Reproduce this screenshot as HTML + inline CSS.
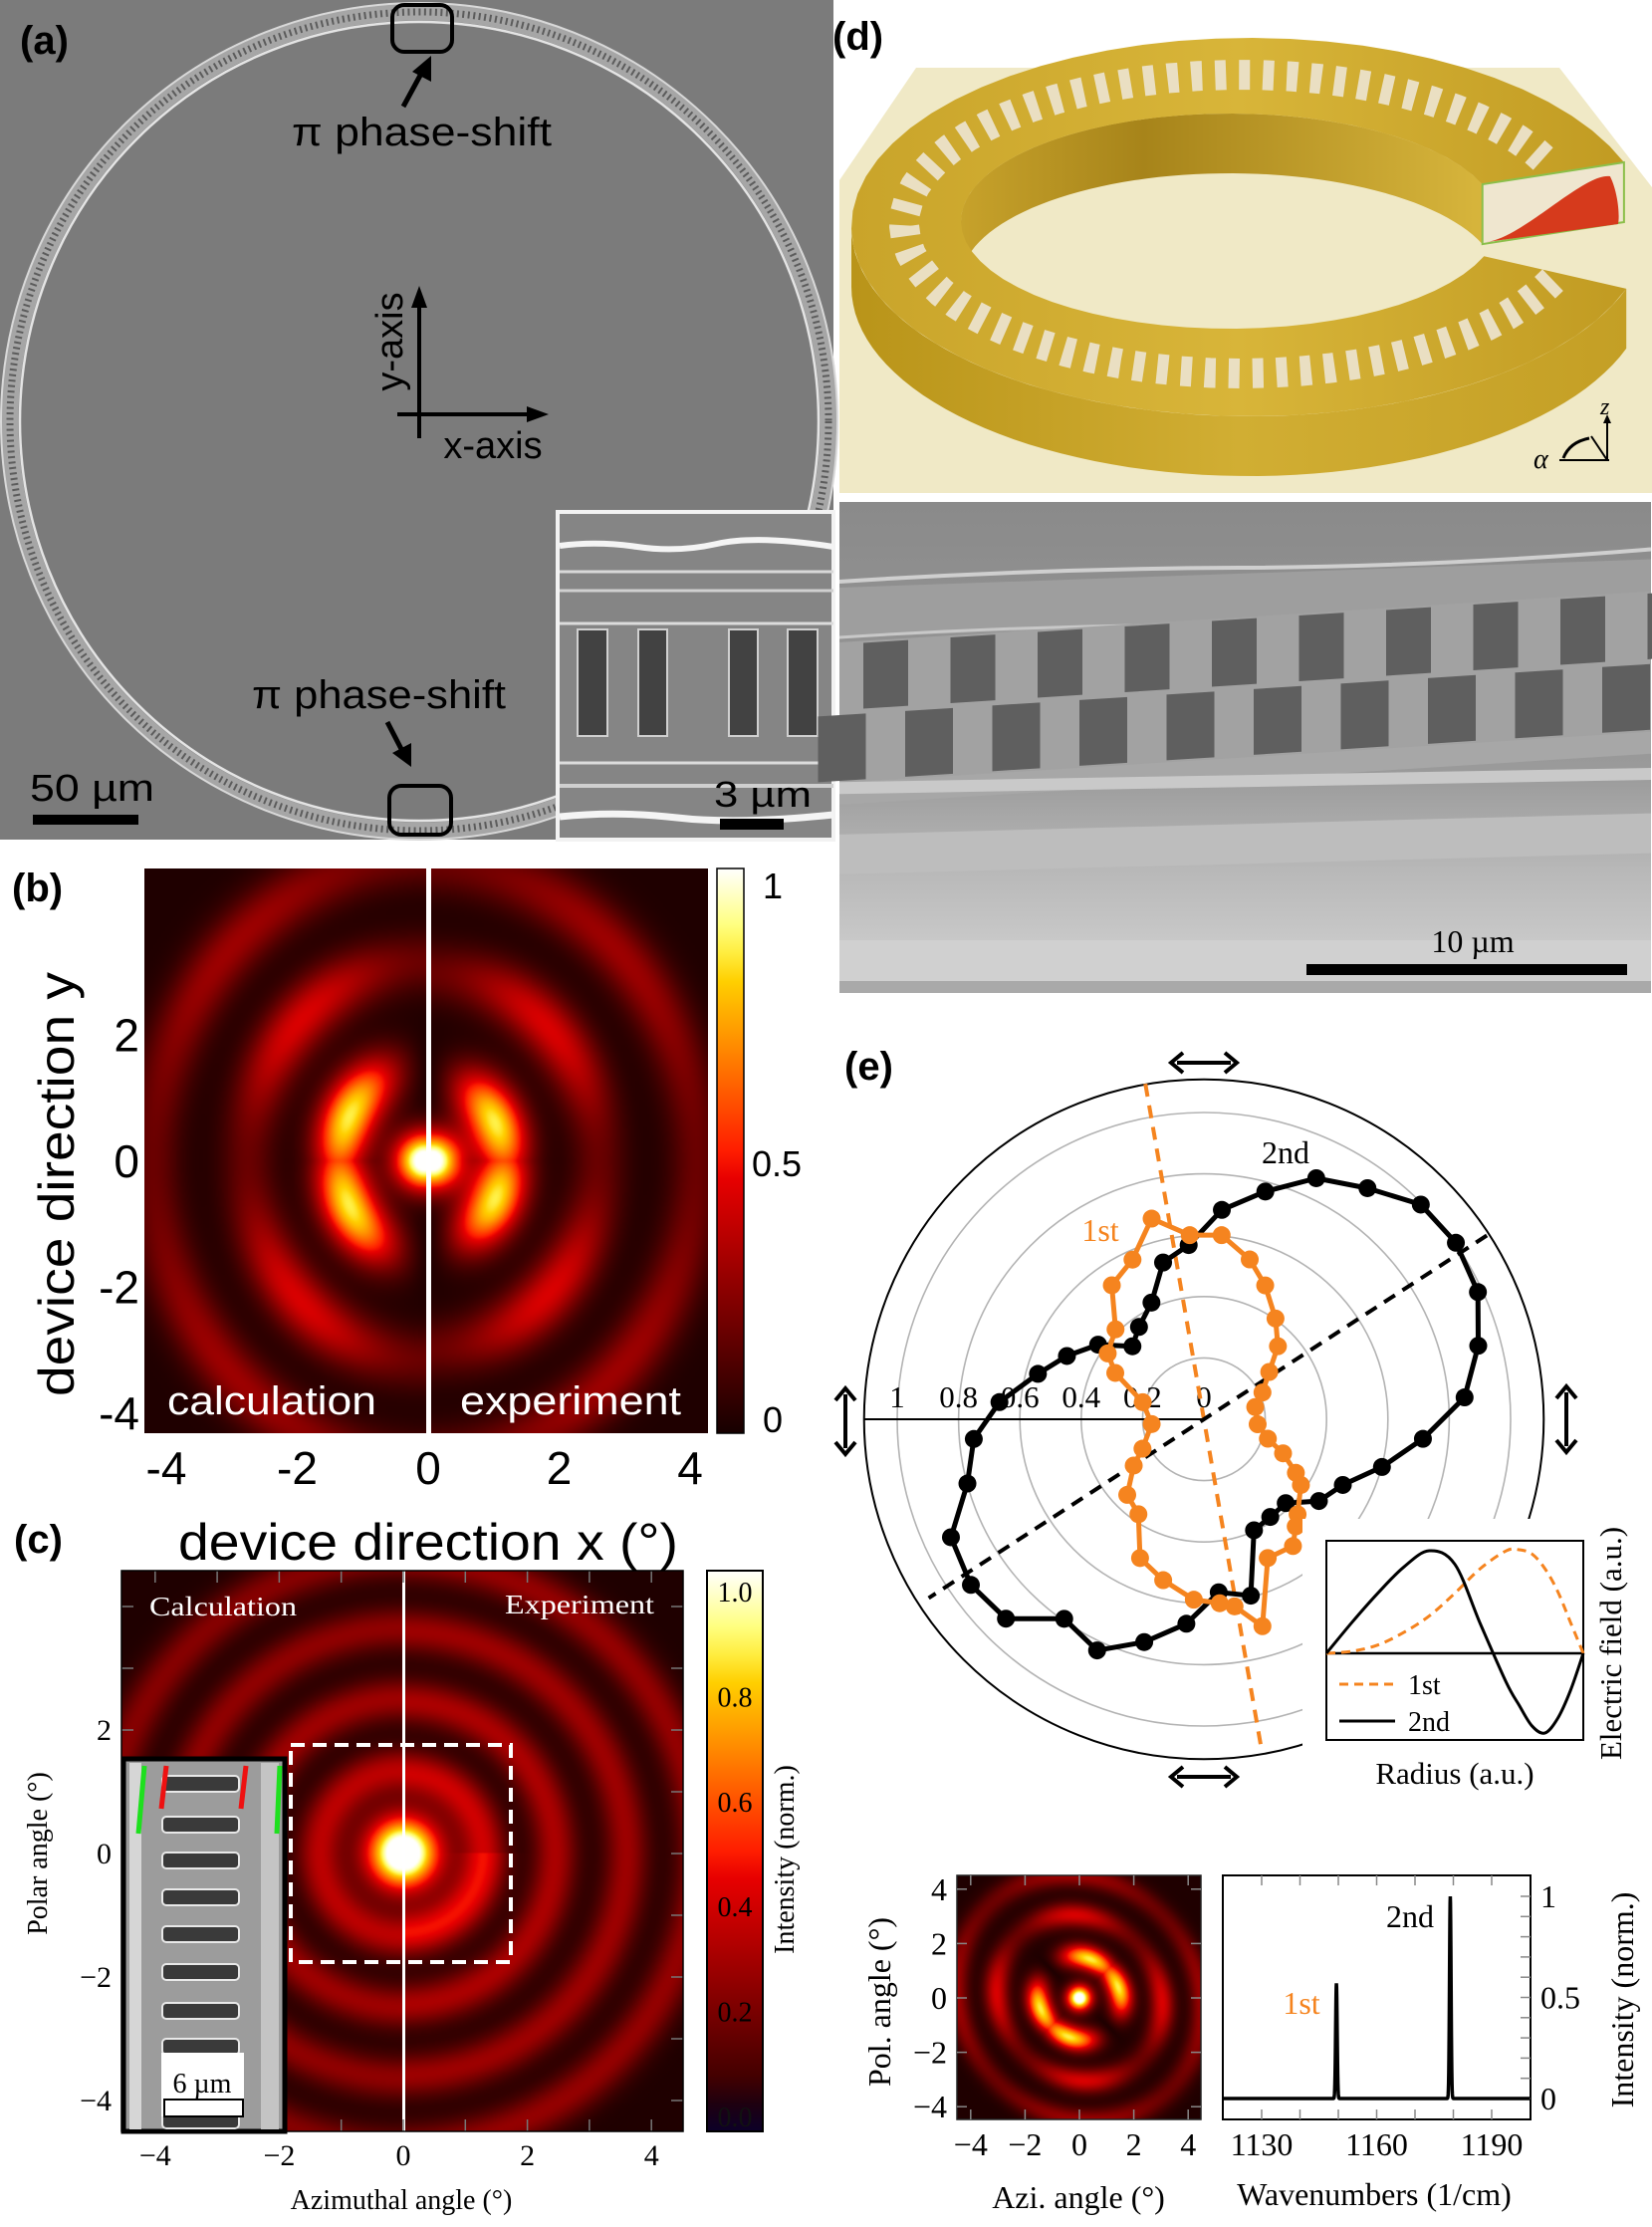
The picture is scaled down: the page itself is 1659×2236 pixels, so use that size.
<!DOCTYPE html>
<html><head><meta charset="utf-8"><title>Figure</title>
<style>
body{margin:0;width:1659px;height:2236px;position:relative;background:#fff;overflow:hidden}
canvas{position:absolute}
svg{position:absolute;left:0;top:0}
.sans{font-family:"Liberation Sans",sans-serif}
.serif{font-family:"Liberation Serif",serif}
</style></head>
<body>
<canvas id="hb" style="left:145px;top:872px;width:566px;height:567px"></canvas>
<canvas id="hc" style="left:122px;top:1577px;width:564px;height:563px"></canvas>
<canvas id="he" style="left:961px;top:1883px;width:245px;height:245px"></canvas>
<svg id="fig" width="1659" height="2236" viewBox="0 0 1659 2236">
<defs>
<linearGradient id="gold" x1="0" y1="0" x2="1" y2="0"><stop offset="0" stop-color="#c9a42a"/><stop offset="0.5" stop-color="#d8b539"/><stop offset="1" stop-color="#c19b22"/></linearGradient>
<linearGradient id="goldwall" x1="0" y1="0" x2="1" y2="0"><stop offset="0" stop-color="#b99419"/><stop offset="0.5" stop-color="#d1ae33"/><stop offset="1" stop-color="#c49f25"/></linearGradient>
<linearGradient id="innerwall" x1="0" y1="0" x2="1" y2="0"><stop offset="0" stop-color="#c7a22b"/><stop offset="0.35" stop-color="#a7841a"/><stop offset="1" stop-color="#d7b53c"/></linearGradient>
<linearGradient id="cbB" x1="0" y1="1" x2="0" y2="0"></linearGradient>
<linearGradient id="cbC" x1="0" y1="1" x2="0" y2="0"></linearGradient>
<linearGradient id="semd" x1="0" y1="0" x2="0" y2="1"><stop offset="0" stop-color="#8a8a8a"/><stop offset="0.55" stop-color="#9a9a9a"/><stop offset="0.75" stop-color="#b8b8b8"/><stop offset="0.92" stop-color="#cbcbcb"/><stop offset="1" stop-color="#a8a8a8"/></linearGradient>
</defs>

<!-- Panel (a) -->
<g>
<rect x="0" y="0" width="837" height="843" fill="#7b7b7b"/>
<circle cx="421" cy="423" r="411" fill="none" stroke="#a6a6a6" stroke-width="17"/>
<circle cx="421" cy="423" r="411" fill="none" stroke="#5c5c5c" stroke-width="7" stroke-dasharray="2 3.5"/>
<circle cx="421" cy="423" r="401" fill="none" stroke="#e4e4e4" stroke-width="2.5"/>
<circle cx="421" cy="423" r="420" fill="none" stroke="#d8d8d8" stroke-width="2"/>
<rect x="394" y="5" width="60" height="47" rx="12" fill="none" stroke="#000" stroke-width="4"/>
<rect x="391" y="789" width="62" height="49" rx="12" fill="none" stroke="#000" stroke-width="4"/>
<line x1="405" y1="107" x2="424" y2="72" stroke="#000" stroke-width="5"/>
<polygon points="433,56 414,72 433,82" fill="#000"/>
<line x1="389" y1="725" x2="404" y2="754" stroke="#000" stroke-width="5"/>
<polygon points="413,770 394,756 413,746" fill="#000"/>
<text x="293" y="146" class="sans" font-size="40" textLength="261" lengthAdjust="spacingAndGlyphs">π phase-shift</text>
<text x="253" y="711" class="sans" font-size="40" textLength="255" lengthAdjust="spacingAndGlyphs">π phase-shift</text>
<line x1="421" y1="440" x2="421" y2="305" stroke="#000" stroke-width="4"/>
<polygon points="421,287 413,309 429,309" fill="#000"/>
<line x1="399" y1="416" x2="533" y2="416" stroke="#000" stroke-width="4"/>
<polygon points="551,416 529,408 529,424" fill="#000"/>
<text transform="translate(404,343) rotate(-90)" text-anchor="middle" class="sans" font-size="38">y-axis</text>
<text x="495" y="460" text-anchor="middle" class="sans" font-size="38">x-axis</text>
<text x="30" y="804" class="sans" font-size="38" textLength="125" lengthAdjust="spacingAndGlyphs">50 µm</text>
<rect x="33" y="818" width="106" height="10" fill="#000"/>
<g>
<rect x="560" y="514" width="277" height="329" fill="#858585" stroke="#f2f2f2" stroke-width="4"/>
<path d="M562 548 Q600 543 640 549 T720 546 T837 549" stroke="#f4f4f4" stroke-width="6" fill="none"/>
<line x1="562" y1="574" x2="837" y2="574" stroke="#d8d8d8" stroke-width="3"/>
<line x1="562" y1="593" x2="837" y2="593" stroke="#cfcfcf" stroke-width="3"/>
<line x1="562" y1="626" x2="837" y2="626" stroke="#dcdcdc" stroke-width="3"/>
<rect x="580" y="632" width="30" height="107" fill="#424242" stroke="#d0d0d0" stroke-width="2"/>
<rect x="641" y="632" width="29" height="107" fill="#424242" stroke="#d0d0d0" stroke-width="2"/>
<rect x="732" y="632" width="29" height="107" fill="#424242" stroke="#d0d0d0" stroke-width="2"/>
<rect x="791" y="632" width="30" height="107" fill="#424242" stroke="#d0d0d0" stroke-width="2"/>
<line x1="562" y1="766" x2="837" y2="766" stroke="#dcdcdc" stroke-width="3"/>
<line x1="562" y1="789" x2="837" y2="789" stroke="#cfcfcf" stroke-width="4"/>
<path d="M562 820 Q620 814 680 821 T837 818" stroke="#f4f4f4" stroke-width="7" fill="none"/>
<text x="717" y="810" class="sans" font-size="36" textLength="98" lengthAdjust="spacingAndGlyphs">3 µm</text>
<rect x="723" y="822" width="64" height="11" fill="#000"/>
</g>
<text x="20" y="54" class="sans" font-size="40" font-weight="bold">(a)</text>
</g>

<!-- Panel (d) -->
<g>
<polygon points="843,181 920,68 1566,68 1659,188 1659,495 843,495" fill="#f0e9c6"/>
<g id="ringd"></g>
<text x="1607" y="416" class="serif" font-size="24" font-style="italic">z</text>
<line x1="1614" y1="462" x2="1614" y2="422" stroke="#000" stroke-width="2"/>
<polygon points="1614,416 1610,425 1618,425" fill="#000"/>
<line x1="1566" y1="462" x2="1616" y2="462" stroke="#000" stroke-width="2"/>
<line x1="1614" y1="462" x2="1598" y2="438" stroke="#000" stroke-width="2"/>
<path d="M1596 440 Q1576 444 1570 460" fill="none" stroke="#000" stroke-width="3"/>
<text x="1540" y="470" class="serif" font-size="28" font-style="italic">α</text>
<text x="836" y="50" class="sans" font-size="40" font-weight="bold">(d)</text>
</g>
<g>
<rect x="843" y="504" width="815" height="493" fill="url(#semd)"/>
<g transform="translate(843,0) skewY(-2)">
<path d="M0 584 Q200 578 400 584 T815 580" stroke="#cfcfcf" stroke-width="4" fill="none"/>
<rect x="0" y="590" width="815" height="50" fill="#9e9e9e"/>
<path d="M0 640 Q200 634 400 641 T815 637" stroke="#c8c8c8" stroke-width="3" fill="none"/>
</g>
<g id="combd" transform="translate(843,0) skewY(-3.6)"></g>
<rect x="843" y="800" width="815" height="12" fill="#c9c9c9" transform="skewY(-1)"/>
<rect x="843" y="830" width="815" height="40" fill="#bdbdbd" transform="skewY(-1.5) translate(0,30)"/>
<rect x="843" y="944" width="815" height="53" fill="#d0d0d0"/>
<rect x="843" y="985" width="815" height="12" fill="#a9a9a9"/>
<text x="1479" y="956" text-anchor="middle" class="serif" font-size="32">10 µm</text>
<rect x="1312" y="968" width="322" height="11" fill="#000"/>
</g>

<!-- Panel (b) -->
<g>
<rect x="428" y="872" width="5" height="567" fill="#fff"/>
<rect x="720" y="872" width="27" height="567" fill="url(#cbB)" stroke="#000" stroke-width="1.5"/>
<text x="766" y="902" class="sans" font-size="36">1</text>
<text x="755" y="1181" class="sans" font-size="36">0.5</text>
<text x="766" y="1438" class="sans" font-size="36">0</text>
<text x="273" y="1420" text-anchor="middle" class="sans" font-size="40" fill="#fff" textLength="210" lengthAdjust="spacingAndGlyphs">calculation</text>
<text x="573" y="1420" text-anchor="middle" class="sans" font-size="40" fill="#fff" textLength="222" lengthAdjust="spacingAndGlyphs">experiment</text>
<g id="bticks" class="sans" font-size="46"></g>
<text transform="translate(74,1189) rotate(-90)" text-anchor="middle" class="sans" font-size="50" textLength="426" lengthAdjust="spacingAndGlyphs">device direction y</text>
<text x="430" y="1566" text-anchor="middle" class="sans" font-size="52" textLength="502" lengthAdjust="spacingAndGlyphs">device direction x (°)</text>
<text x="12" y="905" class="sans" font-size="40" font-weight="bold">(b)</text>
</g>

<!-- Panel (c) -->
<g>
<text x="14" y="1559" class="sans" font-size="40" font-weight="bold">(c)</text>
<rect x="404" y="1577" width="3" height="563" fill="#fff"/>
<g id="cticks"></g>
<rect x="292" y="1752" width="221" height="218" fill="none" stroke="#fff" stroke-width="4" stroke-dasharray="14 8"/>
<g>
<rect x="124" y="1766" width="162" height="374" fill="#9c9c9c" stroke="#000" stroke-width="5"/>
<rect x="130" y="1770" width="12" height="368" fill="#d6d6d6"/>
<rect x="262" y="1770" width="18" height="368" fill="#c4c4c4"/>
<g id="cinsetslots"></g>
<line x1="145" y1="1773" x2="139" y2="1841" stroke="#1ee01e" stroke-width="5"/>
<line x1="281" y1="1773" x2="278" y2="1841" stroke="#1ee01e" stroke-width="5"/>
<line x1="167" y1="1773" x2="162" y2="1816" stroke="#ee1111" stroke-width="5"/>
<line x1="247" y1="1773" x2="242" y2="1816" stroke="#ee1111" stroke-width="5"/>
<rect x="162" y="2061" width="83" height="64" fill="#fff"/>
<text x="203" y="2101" text-anchor="middle" class="serif" font-size="28">6 µm</text>
<rect x="165" y="2108" width="79" height="17" fill="#fff" stroke="#000" stroke-width="2"/>
</g>
<text x="224" y="1622" text-anchor="middle" class="serif" font-size="27" fill="#fff" textLength="148" lengthAdjust="spacingAndGlyphs">Calculation</text>
<text x="582" y="1620" text-anchor="middle" class="serif" font-size="27" fill="#fff" textLength="150" lengthAdjust="spacingAndGlyphs">Experiment</text>
<rect x="710" y="1577" width="56" height="563" fill="url(#cbC)" stroke="#000" stroke-width="2"/>
<g id="cbclabels" class="serif" font-size="28"></g>
<text transform="translate(797,1867) rotate(-90)" text-anchor="middle" class="serif" font-size="28">Intensity (norm.)</text>
<text transform="translate(47,1861) rotate(-90)" text-anchor="middle" class="serif" font-size="28">Polar angle (°)</text>
<text x="403" y="2218" text-anchor="middle" class="serif" font-size="28">Azimuthal angle (°)</text>
</g>

<!-- Panel (e) polar -->
<g id="polar"></g>
<text x="848" y="1084" class="sans" font-size="40" font-weight="bold">(e)</text>

<!-- Bottom panels -->
<g id="bottom"></g>
</svg>

<script>
// ---------- polar data (panel e) ----------
const angles2nd = [65.0,54.7,44.7,35.0,24.9,15.0,4.8,-5.1,-15.0,-25.3,-35.4,-45.7,-55.8,-65.7,-75.1,-85.1,-94.9,-105.0,-114.8,-125.0,-134.8,-144.6,-155.0,-164.8,-175.1,175.2,164.7,155.2,144.8,134.4,125.1,114.2,104.6,95.0,85.1,74.9];
const radii2nd  = [0.867,0.923,0.995,1.003,0.985,0.926,0.853,0.717,0.601,0.501,0.46,0.382,0.385,0.397,0.595,0.566,0.669,0.752,0.83,0.794,0.916,0.932,0.91,0.799,0.753,0.669,0.561,0.492,0.422,0.333,0.368,0.417,0.528,0.57,0.685,0.769];
const angles1st = [104.6,94.4,84.5,74.0,65.4,54.6,44.6,35.9,24.6,13.4,-5.3,-16.9,-23.3,-30.2,-34.1,-45.4,-49.4,-54.9,-65.3,-74.2,-80.7,-85.1,-93.2,-104.2,-114.7,-124.6,-135.4,-146.6,-154.4,-174.7,164.4,152.4,145.6,134.5,124.5,114.1];
const radii1st  = [0.676,0.602,0.603,0.542,0.48,0.403,0.339,0.263,0.21,0.172,0.176,0.218,0.281,0.347,0.382,0.435,0.46,0.505,0.498,0.701,0.618,0.602,0.589,0.541,0.498,0.376,0.351,0.274,0.222,0.171,0.207,0.326,0.38,0.411,0.53,0.57];
const polarTicks = [1,0.8,0.6,0.4,0.2,0];
const axis1stAngle = 99.9;
const axis2ndAngle = 33;
// ---------- inset field profiles ----------
const fieldRadius = [0,0.1,0.2,0.3,0.4,0.5,0.6,0.7,0.75,0.8,0.85,0.9,0.95,1.0];
const field1st = [0,0.02,0.08,0.2,0.36,0.58,0.82,0.99,1.0,0.96,0.82,0.6,0.3,0];
const field2nd = [0,0.3,0.58,0.83,0.99,0.86,0.28,-0.28,-0.5,-0.7,-0.77,-0.63,-0.36,0];
// ---------- spectrum ----------
const peakPositions = [1149.5,1179.2];
const peakHeights = [0.57,1.0];
const specXTicks = [1130,1160,1190];
const specYTicks = [0,0.5,1];
// ---------- heatmap axes ----------
const bXTicks = [-4,-2,0,2,4];
const bYTicks = [2,0,-2,-4];
const cXTicks = [-4,-2,0,2,4];
const cYTicks = [2,0,-2,-4];
const cbCLabels = [1.0,0.8,0.6,0.4,0.2,0.0];
const eTicks = [4,2,0,-2,-4];

const NS="http://www.w3.org/2000/svg";
function mk(tag, attrs, parent){const e=document.createElementNS(NS,tag);for(const k in attrs)e.setAttribute(k,attrs[k]);if(parent)parent.appendChild(e);return e;}
function fmt(v){return (v<0?"−":"")+Math.abs(v);}

// colormap
function cmap(t){t=Math.max(0,Math.min(1,t));
 const r=t<0.5?22+233*t/0.5:255;
 const g=t<0.45?0:(t<0.88?255*(t-0.45)/0.43:255);
 const b=t<0.8?0:255*(t-0.8)/0.2;return [r|0,g|0,b|0];}
function fillGrad(id,navy){const g=document.getElementById(id);
 for(let i=0;i<=20;i++){const t=i/20;let c=cmap(t);if(navy&&t<0.08){c=[Math.round(12+t/0.08*30),0,Math.round(40*(1-t/0.08))];}
  mk('stop',{offset:t,'stop-color':`rgb(${c[0]},${c[1]},${c[2]})`},g);}}
fillGrad('cbB',false);fillGrad('cbC',true);

// heat functions (image models)
function hsym(x,y,p){const yy=y/(p.ay||1.15);const r=Math.hypot(x,yy);const phi=Math.atan2(Math.abs(yy),Math.abs(x));
 let v=0.02;
 v+=1.1*Math.exp(-((x-p.cx)**2+y**2)/0.2);
 const A1=Math.pow(Math.cos(phi),1.2)*(0.6+0.55*Math.sin(2*phi));
 v+=0.92*A1*Math.exp(-(((r-p.r1)/0.42)**2));
 const A2=0.4+0.6*Math.sin(2*phi)**2;
 v+=0.4*A2*Math.exp(-(((r-p.r2)/0.42)**2));
 v+=0.27*(0.6+0.4*Math.sin(2*phi)**2)*Math.exp(-(((r-p.r3)/0.42)**2));
 return v;}
function hcf(x,y){const r=Math.hypot(x,y);const right=x>0;
 const rr=right?[1.3,2.45,3.6,4.75]:[1.35,2.5,3.65,4.8];const aa=right?[0.36,0.3,0.27,0.25]:[0.32,0.27,0.24,0.22];
 let v=0.02+1.1*Math.exp(-((r/0.55)**2))+0.12*Math.exp(-((r/0.9)**2));
 for(let i=0;i<4;i++)v+=aa[i]*Math.exp(-(((r-rr[i])/0.36)**2));
 if(right&&y<0)v+=0.08*Math.exp(-(((r-1.3)/0.4)**2));
 return v;}
function drawHeat(id,W,H,s,fn){const c=document.getElementById(id);c.width=Math.round(W/s);c.height=Math.round(H/s);
 const ctx=c.getContext('2d');const im=ctx.createImageData(c.width,c.height);
 for(let j=0;j<c.height;j++)for(let i=0;i<c.width;i++){const col=cmap(fn(i*s+s/2,j*s+s/2));const k=(j*c.width+i)*4;im.data[k]=col[0];im.data[k+1]=col[1];im.data[k+2]=col[2];im.data[k+3]=255;}
 ctx.putImageData(im,0,0);}
drawHeat('hb',566,567,2,(px,py)=>{const x=(145+px-430)/65.75,y=(1166-(872+py))/63.2;
 return x<0?hsym(x,y,{cx:-0.05,r1:1.35,r2:2.75,r3:4.2}):hsym(x,y,{cx:0.05,r1:1.15,r2:2.6,r3:4.1});});
drawHeat('hc',564,563,2,(px,py)=>{const x=(122+px-405)/62.3,y=(1861-(1577+py))/62;return hcf(x,y);});
drawHeat('he',245,245,1,(px,py)=>{const x=(px-123)/27.3,y=-(py-123)/27.3;const u=(x+y)/Math.SQRT2,v=(-x+y)/Math.SQRT2;return hsym(u,v,{cx:0,r1:1.45,r2:2.9,r3:4.3,ay:1.1});});

// panel b ticks
const bt=document.getElementById('bticks');
bXTicks.forEach(v=>{const t=mk('text',{x:430+v*65.75,y:1490,'text-anchor':'middle'},bt);t.textContent=v<0?"-"+Math.abs(v):v;
 
 });
bYTicks.forEach(v=>{const t=mk('text',{x:140,y:1166-v*63.2+16,'text-anchor':'end'},bt);t.textContent=v<0?"-"+Math.abs(v):v;
 
 });

// panel c ticks
const ct=document.getElementById('cticks');
for(let v=-4;v<=4;v++){const x=405+v*62.3;mk('line',{x1:x,y1:1577,x2:x,y2:1589,stroke:'#777','stroke-width':1.5},ct);mk('line',{x1:x,y1:2140,x2:x,y2:2128,stroke:'#777','stroke-width':1.5},ct);
 const y=1861-v*62;mk('line',{x1:686,y1:y,x2:674,y2:y,stroke:'#777','stroke-width':1.5},ct);mk('line',{x1:122,y1:y,x2:134,y2:y,stroke:'#777','stroke-width':1.5},ct);}
cXTicks.forEach(v=>{const t=mk('text',{x:405+v*62.3,y:2174,'text-anchor':'middle','class':'serif','font-size':30},ct);t.textContent=fmt(v);
 
 });
cYTicks.forEach(v=>{const t=mk('text',{x:112,y:1861-v*62+10,'text-anchor':'end','class':'serif','font-size':30},ct);t.textContent=fmt(v);
 
 });
const cbl=document.getElementById('cbclabels');
cbCLabels.forEach(v=>{const t=mk('text',{x:738,y:2125-v*527+10,'text-anchor':'middle',fill:v<0.1?'#111':'#000'},cbl);t.textContent=v.toFixed(1);
 
 });
mk('rect',{x:122,y:1577,width:564,height:563,fill:'none',stroke:'#000','stroke-width':1.5},ct);
const cs=document.getElementById('cinsetslots');
[1791,1832,1868,1905,1942,1980,2019,2055,2091,2129].forEach(y=>{const r=mk('rect',{x:163,y:y-8,width:77,height:16,rx:4,fill:'#3a3a3a',stroke:'#e8e8e8','stroke-width':2},cs);
 
 });

// panel d ring
(function(){const g=document.getElementById('ringd');
 const cx=1255,cy=228,rx=400,ry=190,icx=1235,icy=222,irx=270,iry=108,H=60;
 const P=(a,X,Y,RX,RY,dy)=>[X+RX*Math.cos(a*Math.PI/180),Y+RY*Math.sin(a*Math.PI/180)+(dy||0)];
 function arc(X,Y,RX,RY,a0,a1,dy){let s="";const n=60;for(let i=0;i<=n;i++){const a=a0+(a1-a0)*i/n;const p=P(a,X,Y,RX,RY,dy);s+=(i?"L":"")+p[0].toFixed(1)+" "+p[1].toFixed(1)+" ";}return s;}
 const iw=mk('path',{d:"M"+arc(icx,icy,irx,iry,180,340,0)+"L"+arc(icx,icy,irx,iry,340,180,H)+"Z",fill:'url(#innerwall)'},g);
 
 
 const ow=mk('path',{d:"M"+arc(cx,cy,rx,ry,19,180,0)+"L"+arc(cx,cy,rx,ry,180,19,H)+"Z",fill:'url(#goldwall)'},g);
 
 
 const top=mk('path',{d:"M"+arc(cx,cy,rx,ry,19,340,0)+"L"+arc(icx,icy,irx,iry,340,19,0)+"Z",fill:'url(#gold)'},g);
 
 
 const sl=mk('path',{d:"M"+arc(1246,225,338,150,22,336,0),fill:'none',stroke:'#eadfc2','stroke-width':30,'stroke-dasharray':'11 13'},g);
 
 
 const a=P(340,cx,cy,rx,ry),b=P(340,icx,icy,irx,iry);
 const ef=mk('polygon',{points:`${a[0]},${a[1]} ${b[0]},${b[1]} ${b[0]},${b[1]+H} ${a[0]},${a[1]+H}`,fill:'#efe6cf',stroke:'#8bbf4a','stroke-width':2},g);
 
 
 const rd=mk('path',{d:`M${b[0]+4} ${b[1]+H-2} C ${b[0]+40} ${b[1]+H-6}, ${a[0]-40} ${a[1]+10}, ${a[0]-14} ${a[1]+14} C ${a[0]-6} ${a[1]+30}, ${a[0]-4} ${a[1]+H-6}, ${a[0]-6} ${a[1]+H+2} Z`,fill:'#d63a1c'},g);
 
 
})();
// panel d sem comb
(function(){const g=document.getElementById('combd');
 mk('rect',{x:0,y:645,width:815,height:142,fill:'#a2a2a2'},g);
 for(let k=0;k<10;k++){const u=mk('rect',{x:24+k*87.5,y:647,width:45,height:66,fill:'#5f5f5f'},g);
  
  
  const l=mk('rect',{x:66+k*87.5-87.5,y:718,width:48,height:66,fill:'#5f5f5f'},g);
  
  }
 mk('rect',{x:0,y:786,width:815,height:22,fill:'#a7a7a7'},g);
})();

// polar plot
(function(){const g=document.getElementById('polar');const cx=1209,cy=1425,R=308;
 const X=(a,r)=>cx+r*R*Math.cos(a*Math.PI/180),Y=(a,r)=>cy-r*R*Math.sin(a*Math.PI/180);
 [0.2,0.4,0.6,0.8,1.0].forEach(r=>{const c=mk('circle',{cx,cy,r:r*R,fill:'none',stroke:'#b3b3b3','stroke-width':1.6},g);
  
  });
 const oc=mk('circle',{cx,cy,r:1.108*R,fill:'none',stroke:'#000','stroke-width':2},g);
 
 
 const ax=mk('line',{x1:cx,y1:cy,x2:cx-1.108*R,y2:cy,stroke:'#000','stroke-width':2},g);
 
 
 polarTicks.forEach(v=>{const t=mk('text',{x:cx-v*R,y:cy-12,'text-anchor':'middle','class':'serif','font-size':31},g);t.textContent=v;
  
  });
 const d1=mk('line',{x1:X(axis1stAngle,1.11),y1:Y(axis1stAngle,1.11),x2:X(axis1stAngle+180,1.08),y2:Y(axis1stAngle+180,1.08),stroke:'#f5841f','stroke-width':4,'stroke-dasharray':'13 9'},g);
 
 
 const d2=mk('line',{x1:X(axis2ndAngle,1.10),y1:Y(axis2ndAngle,1.10),x2:X(axis2ndAngle+180,1.07),y2:Y(axis2ndAngle+180,1.07),stroke:'#000','stroke-width':4,'stroke-dasharray':'13 9'},g);
 
 
 function series(ang,rad,col,name){let d="";ang.forEach((a,i)=>{d+=(i?"L":"M")+X(a,rad[i]).toFixed(1)+" "+Y(a,rad[i]).toFixed(1)+" ";});d+="Z";
  const p=mk('path',{d,fill:'none',stroke:col,'stroke-width':5,'stroke-linejoin':'round'},g);
  
  
  ang.forEach((a,i)=>{const c=mk('circle',{cx:X(a,rad[i]),cy:Y(a,rad[i]),r:9,fill:col},g);
   
   });}
 series(angles2nd,radii2nd,'#000','series-2nd');
 series(angles1st,radii1st,'#f5841f','series-1st');
 const l2=mk('text',{x:1291,y:1168,'text-anchor':'middle','class':'serif','font-size':32},g);l2.textContent='2nd';
 
 
 const l1=mk('text',{x:1105,y:1246,'text-anchor':'middle','class':'serif','font-size':32,fill:'#f5841f'},g);l1.textContent='1st';
 
 
 function darrow(x,y,horiz,name){const L=33,h=12,w=10;const gg=mk('g',{},g);
  
  
  if(horiz){mk('line',{x1:x-L+6,y1:y,x2:x+L-6,y2:y,stroke:'#000','stroke-width':4},gg);
   mk('polyline',{points:`${x-L+h},${y-w} ${x-L},${y} ${x-L+h},${y+w}`,fill:'none',stroke:'#000','stroke-width':4},gg);
   mk('polyline',{points:`${x+L-h},${y-w} ${x+L},${y} ${x+L-h},${y+w}`,fill:'none',stroke:'#000','stroke-width':4},gg);}
  else{mk('line',{x1:x,y1:y-L+6,x2:x,y2:y+L-6,stroke:'#000','stroke-width':4},gg);
   mk('polyline',{points:`${x-w},${y-L+h} ${x},${y-L} ${x+w},${y-L+h}`,fill:'none',stroke:'#000','stroke-width':4},gg);
   mk('polyline',{points:`${x-w},${y+L-h} ${x},${y+L} ${x+w},${y+L-h}`,fill:'none',stroke:'#000','stroke-width':4},gg);}}
 darrow(1209,1067,true,'polarizer-arrow-top');darrow(1209,1784,true,'polarizer-arrow-bottom');
 darrow(849,1427,false,'polarizer-arrow-left');darrow(1573,1425,false,'polarizer-arrow-right');
 // inset
 mk('rect',{x:1308,y:1525,width:300,height:250,fill:'#fff'},g);
 const x0=1332,x1=1590,yb=1660,S=104;const FX=v=>x0+v*(x1-x0),FY=v=>yb-v*S;
 const box=mk('rect',{x:x0,y:1547,width:x1-x0,height:200,fill:'none',stroke:'#000','stroke-width':2},g);
 
 
 mk('line',{x1:x0,y1:yb,x2:x1,y2:yb,stroke:'#000','stroke-width':2.5},g);
 function curve(vals,attrs,name){const pts=fieldRadius.map((r,i)=>[FX(r),FY(vals[i])]);let d="M"+pts[0][0]+" "+pts[0][1];
  for(let i=0;i<pts.length-1;i++){const p0=pts[Math.max(0,i-1)],p1=pts[i],p2=pts[i+1],p3=pts[Math.min(pts.length-1,i+2)];
   d+=` C${p1[0]+(p2[0]-p0[0])/6} ${p1[1]+(p2[1]-p0[1])/6},${p2[0]-(p3[0]-p1[0])/6} ${p2[1]-(p3[1]-p1[1])/6},${p2[0]} ${p2[1]}`;}
  const p=mk('path',Object.assign({d,fill:'none'},attrs),g);
  
  }
 curve(field1st,{stroke:'#f5841f','stroke-width':3,'stroke-dasharray':'9 6'},'field-1st');
 curve(field2nd,{stroke:'#000','stroke-width':3},'field-2nd');
 mk('line',{x1:1345,y1:1691,x2:1401,y2:1691,stroke:'#f5841f','stroke-width':3,'stroke-dasharray':'9 6'},g);
 mk('line',{x1:1345,y1:1728,x2:1401,y2:1728,stroke:'#000','stroke-width':3},g);
 const t1=mk('text',{x:1414,y:1701,'class':'serif','font-size':28},g);t1.textContent='1st';
 
 
 const t2=mk('text',{x:1414,y:1738,'class':'serif','font-size':28},g);t2.textContent='2nd';
 
 
 const xr=mk('text',{x:1461,y:1791,'text-anchor':'middle','class':'serif','font-size':31},g);xr.textContent='Radius (a.u.)';
 
 
 const yr=mk('text',{transform:'translate(1628,1650) rotate(-90)','text-anchor':'middle','class':'serif','font-size':31},g);yr.textContent='Electric field (a.u.)';
 
 
})();

// bottom panels
(function(){const g=document.getElementById('bottom');
 mk('rect',{x:961,y:1883,width:245,height:245,fill:'none',stroke:'#222','stroke-width':1.5},g);
 eTicks.forEach(v=>{const x=1084+v*27.3,y=2006-v*27.3;
  mk('line',{x1:x,y1:1883,x2:x,y2:1893,stroke:'#888','stroke-width':1.5},g);mk('line',{x1:x,y1:2128,x2:x,y2:2118,stroke:'#888','stroke-width':1.5},g);
  mk('line',{x1:961,y1:y,x2:971,y2:y,stroke:'#888','stroke-width':1.5},g);mk('line',{x1:1206,y1:y,x2:1196,y2:y,stroke:'#888','stroke-width':1.5},g);
  const tx=mk('text',{x:x,y:2164,'text-anchor':'middle','class':'serif','font-size':32},g);tx.textContent=fmt(v);
  
  
  const ty=mk('text',{x:951,y:y+11,'text-anchor':'end','class':'serif','font-size':32},g);ty.textContent=fmt(v);
  
  });
 const pa=mk('text',{transform:'translate(894,2010) rotate(-90)','text-anchor':'middle','class':'serif','font-size':32},g);pa.textContent='Pol. angle (°)';
 
 
 const aa=mk('text',{x:1083,y:2217,'text-anchor':'middle','class':'serif','font-size':32},g);aa.textContent='Azi. angle (°)';
 
 
 const SX=w=>1267+(w-1130)*3.85,SY=v=>2107-v*203;
 mk('rect',{x:1228,y:1883,width:309,height:245,fill:'#fff',stroke:'#000','stroke-width':2},g);
 for(let w=1120;w<=1200;w+=10){const x=SX(w);if(x<1230||x>1535)continue;mk('line',{x1:x,y1:2128,x2:x,y2:2118,stroke:'#888','stroke-width':1.5},g);mk('line',{x1:x,y1:1883,x2:x,y2:1893,stroke:'#888','stroke-width':1.5},g);}
 for(let k=0;k<=10;k++){const y=SY(k/10);mk('line',{x1:1537,y1:y,x2:1527,y2:y,stroke:'#888','stroke-width':1.5},g);}
 let d="";for(let w=1120;w<=1200.01;w+=0.05){let v=0;peakPositions.forEach((p,i)=>{v+=peakHeights[i]*Math.exp(-(((w-p)/0.28)**2));});d+=(d?"L":"M")+SX(w).toFixed(2)+" "+SY(v).toFixed(2)+" ";}
 const sp=mk('path',{d,fill:'none',stroke:'#000','stroke-width':3.5},g);
 
 
 specXTicks.forEach(w=>{const t=mk('text',{x:SX(w),y:2164,'text-anchor':'middle','class':'serif','font-size':32},g);t.textContent=w;
  
  });
 specYTicks.forEach(v=>{const t=mk('text',{x:1547,y:SY(v)+11,'class':'serif','font-size':32},g);t.textContent=v;
  
  });
 const l1=mk('text',{x:1307,y:2022,'text-anchor':'middle','class':'serif','font-size':32,fill:'#f5841f'},g);l1.textContent='1st';
 
 
 const l2=mk('text',{x:1416,y:1935,'text-anchor':'middle','class':'serif','font-size':32},g);l2.textContent='2nd';
 
 
 const wx=mk('text',{x:1380,y:2214,'text-anchor':'middle','class':'serif','font-size':32},g);wx.textContent='Wavenumbers (1/cm)';
 
 
 const iy=mk('text',{transform:'translate(1640,2008) rotate(-90)','text-anchor':'middle','class':'serif','font-size':32},g);iy.textContent='Intensity (norm.)';
 
 
})();
</script>
</body></html>
